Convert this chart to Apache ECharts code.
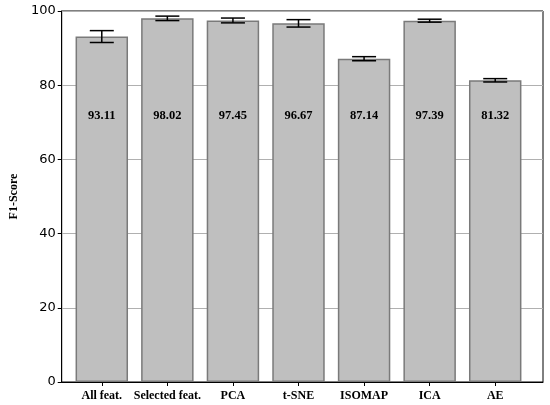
<!DOCTYPE html>
<html>
<head>
<meta charset="utf-8">
<script src="https://cdn.jsdelivr.net/npm/echarts@6/dist/echarts.min.js"></script>
<style>
html,body{margin:0;padding:0;background:#fff;}
#chart{width:550px;height:405px;}
</style>
</head>
<body>
<div id="chart"></div>
<script>
const categories = ['All feat.', 'Selected feat.', 'PCA', 't-SNE', 'ISOMAP', 'ICA', 'AE'];
const f1Scores = [93.11, 98.02, 97.45, 96.67, 87.14, 97.39, 81.32];
const f1Std = [1.6, 0.6, 0.65, 1.0, 0.55, 0.4, 0.45];
const yTicks = [0, 20, 40, 60, 80, 100];

const errData = categories.map((c, i) => [i, f1Scores[i] - f1Std[i], f1Scores[i] + f1Std[i]]);

const serif = '"Liberation Serif", "DejaVu Serif", serif';
const sans = '"DejaVu Sans", sans-serif';

const chart = echarts.init(document.getElementById('chart'), null, {renderer: 'canvas'});
chart.setOption({
  animation: false,
  backgroundColor: '#fff',
  grid: [
    {left: 51, right: 7, top: 11, bottom: 23, show: true, borderColor: '#000', borderWidth: 1, backgroundColor: 'transparent'},
    {left: 69, right: 22, top: 11, bottom: 23}
  ],
  xAxis: [
    {gridIndex: 0, type: 'value', min: 0, max: 1,
      axisLine: {show: true, lineStyle: {color: '#000', width: 1}},
      axisTick: {show: false}, axisLabel: {show: false}, splitLine: {show: false}},
    {gridIndex: 1, type: 'category', data: categories,
      axisLine: {show: false},
      axisTick: {show: true, alignWithLabel: true, length: 4, lineStyle: {color: '#000'}},
      axisLabel: {color: '#000', fontFamily: serif, fontWeight: 'bold', fontSize: 12, margin: 8, interval: 0},
      splitLine: {show: false}}
  ],
  yAxis: [
    {gridIndex: 0, type: 'value', min: yTicks[0], max: yTicks[yTicks.length - 1], interval: 20,
      name: 'F1-Score', nameLocation: 'middle', nameGap: 24,
      nameTextStyle: {color: '#000', fontFamily: serif, fontWeight: 'bold', fontSize: 12},
      axisLine: {show: true, lineStyle: {color: '#000', width: 1}},
      axisTick: {show: true, length: 4, lineStyle: {color: '#000'}},
      axisLabel: {color: '#000', fontFamily: sans, fontSize: 13, margin: 6},
      splitLine: {show: true, lineStyle: {color: '#b0b0b0', width: 1}}},
    {gridIndex: 1, type: 'value', min: yTicks[0], max: yTicks[yTicks.length - 1], show: false}
  ],
  series: [
    {
      type: 'bar', xAxisIndex: 1, yAxisIndex: 1,
      data: f1Scores, barWidth: '80%',
      itemStyle: {color: '#bfbfbf', borderColor: '#7a7a7a', borderWidth: 1.5},
      label: {show: true, position: 'insideBottom', distance: 260,
        color: '#000', fontFamily: serif, fontWeight: 'bold', fontSize: 12.5,
        formatter: p => p.value.toFixed(2)},
      z: 2
    },
    {
      type: 'custom', xAxisIndex: 1, yAxisIndex: 1,
      data: errData, z: 5,
      renderItem: function (params, api) {
        const x = api.value(0);
        const lo = api.coord([x, api.value(1)]);
        const hi = api.coord([x, api.value(2)]);
        const half = 12;
        const style = {stroke: '#000', lineWidth: 1.5, fill: null};
        return {
          type: 'group',
          children: [
            {type: 'line', shape: {x1: lo[0], y1: lo[1], x2: hi[0], y2: hi[1]}, style: style},
            {type: 'line', shape: {x1: lo[0] - half, y1: lo[1], x2: lo[0] + half, y2: lo[1]}, style: style},
            {type: 'line', shape: {x1: hi[0] - half, y1: hi[1], x2: hi[0] + half, y2: hi[1]}, style: style}
          ]
        };
      }
    }
  ]
});
</script>
</body>
</html>
